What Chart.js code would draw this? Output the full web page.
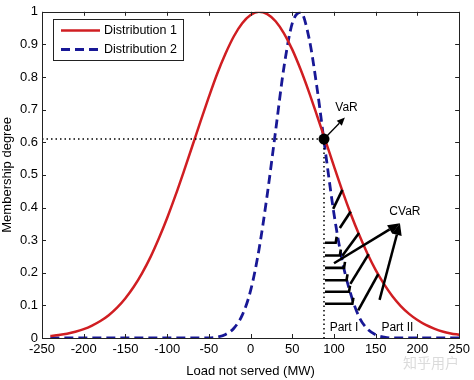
<!DOCTYPE html>
<html><head><meta charset="utf-8">
<script src="https://cdn.jsdelivr.net/npm/chart.js@4"></script>
<style>html,body{margin:0;padding:0;background:#fff;}#wrap{width:474px;height:380px;position:relative;}</style>
</head><body><div id="wrap"><canvas id="c" width="474" height="380"></canvas></div>
<script>
// ---- data ----
const xValues = [-240,-230,-220,-210,-200,-190,-180,-170,-160,-150,-140,-130,-120,-110,-100,-90,-80,-70,-60,-50,-40,-30,-20,-10,0,10,20,30,40,50,60,70,80,90,100,110,120,130,140,150,160,170,180,190,200,210,220,230,240,250];
const dist1 = [0.006,0.009,0.013,0.019,0.027,0.038,0.052,0.070,0.093,0.122,0.157,0.199,0.248,0.305,0.368,0.437,0.511,0.587,0.664,0.739,0.810,0.872,0.925,0.965,0.990,1.0,0.993,0.971,0.934,0.884,0.823,0.754,0.679,0.603,0.526,0.451,0.381,0.317,0.259,0.208,0.165,0.128,0.098,0.074,0.055,0.040,0.029,0.020,0.014,0.010];
const dist2 = [0,0,0,0,0,0,0,0,0,0,0,0,0,0,0,0,0,0,0,0,0.003,0.011,0.03,0.07,0.145,0.27,0.44,0.635,0.83,0.965,0.998,0.92,0.76,0.565,0.38,0.235,0.135,0.065,0.028,0.01,0.003,0,0,0,0,0,0,0,0,0];
const seriesNames = ['Distribution 1','Distribution 2'];
const xTicks = [-250,-200,-150,-100,-50,0,50,100,150,200,250];
const yTicks = [0,0.1,0.2,0.3,0.4,0.5,0.6,0.7,0.8,0.9,1];
const varPoint = [88, 0.61];
const varArrow = [88, 0.61, 113, 0.676];
const varLabel = ['VaR', 115, 0.706];
const hatchH = [[0.292,102],[0.253,107],[0.215,112],[0.177,115],[0.142,118],[0.105,122]];
const hatchD = [[99,0.396,110,0.454],[107,0.337,120,0.388],[110,0.252,130,0.322],[119.6,0.166,141.5,0.257],[129,0.085,153,0.196]];
const cvarArrows = [[100,0.229,179,0.352],[154.6,0.117,179,0.352]];
const cvarLabel = ['CVaR', 185, 0.388];
const partLabels = [['Part I',112,0.031],['Part II',176,0.031]];

const RED = 'rgb(208,30,34)';
const BLUE = 'rgb(24,24,150)';
const FONT = "'Liberation Sans', Arial, sans-serif";

function arrow(ctx, x1, y1, x2, y2, w, hl, hw) {
  const a = Math.atan2(y2 - y1, x2 - x1);
  const bx = x2 - hl * Math.cos(a), by = y2 - hl * Math.sin(a);
  ctx.save();
  ctx.lineWidth = w; ctx.strokeStyle = '#000'; ctx.fillStyle = '#000'; ctx.setLineDash([]);
  ctx.beginPath(); ctx.moveTo(x1, y1); ctx.lineTo(bx, by); ctx.stroke();
  ctx.beginPath();
  ctx.moveTo(x2, y2);
  ctx.lineTo(bx + hw * Math.sin(a), by - hw * Math.cos(a));
  ctx.lineTo(bx - hw * Math.sin(a), by + hw * Math.cos(a));
  ctx.closePath(); ctx.fill();
  ctx.restore();
}

const annot = {
  id: 'annot',
  afterDatasetsDraw(chart) {
    const ctx = chart.ctx, xs = chart.scales.x, ys = chart.scales.y;
    const X = v => xs.getPixelForValue(v), Y = v => ys.getPixelForValue(v);
    ctx.save();
    // dotted guides
    ctx.strokeStyle = '#000'; ctx.lineWidth = 1.5; ctx.setLineDash([1.5, 3]);
    ctx.beginPath(); ctx.moveTo(X(-250), Y(varPoint[1])); ctx.lineTo(X(varPoint[0]), Y(varPoint[1])); ctx.stroke();
    ctx.beginPath(); ctx.moveTo(X(varPoint[0]), Y(varPoint[1])); ctx.lineTo(X(varPoint[0]), Y(0)); ctx.stroke();
    ctx.setLineDash([]);
    // hatching
    ctx.lineWidth = 2.6; ctx.lineCap = 'butt';
    hatchH.forEach(([yv, xe]) => {
      ctx.beginPath(); ctx.moveTo(X(varPoint[0]) + 1, Y(yv)); ctx.lineTo(X(xe), Y(yv)); ctx.lineTo(X(xe) + 1, Y(yv) - 6); ctx.stroke();
    });
    hatchD.forEach(([a, b, c, d]) => {
      ctx.beginPath(); ctx.moveTo(X(a), Y(b)); ctx.lineTo(X(c), Y(d)); ctx.stroke();
    });
    // arrows
    arrow(ctx, X(varArrow[0]), Y(varArrow[1]), X(varArrow[2]), Y(varArrow[3]), 1.3, 8, 3.5);
    cvarArrows.forEach(([a, b, c, d]) => arrow(ctx, X(a), Y(b), X(c), Y(d), 2.5, 12, 5));
    // VaR point
    ctx.fillStyle = '#000';
    ctx.beginPath(); ctx.arc(X(varPoint[0]), Y(varPoint[1]), 5.5, 0, Math.PI * 2); ctx.fill();
    // texts
    ctx.font = '12px ' + FONT; ctx.textAlign = 'center'; ctx.textBaseline = 'middle'; ctx.fillStyle = '#000';
    ctx.fillText(varLabel[0], X(varLabel[1]), Y(varLabel[2]));
    ctx.fillText(cvarLabel[0], X(cvarLabel[1]), Y(cvarLabel[2]));
    partLabels.forEach(([t, a, b]) => ctx.fillText(t, X(a), Y(b)));
    ctx.restore();
  },
  afterDraw(chart) {
    const ctx = chart.ctx, xs = chart.scales.x, ys = chart.scales.y, ca = chart.chartArea;
    ctx.save();
    // box
    ctx.strokeStyle = '#222'; ctx.lineWidth = 1; ctx.setLineDash([]);
    ctx.strokeRect(Math.round(ca.left) + 0.5, Math.round(ca.top) + 0.5, Math.round(ca.right - ca.left), Math.round(ca.bottom - ca.top));
    // inward ticks
    ctx.beginPath();
    xTicks.forEach(v => {
      const px = Math.round(xs.getPixelForValue(v)) + 0.5;
      ctx.moveTo(px, ca.bottom); ctx.lineTo(px, ca.bottom - 4);
      ctx.moveTo(px, ca.top); ctx.lineTo(px, ca.top + 4);
    });
    yTicks.forEach(v => {
      const py = Math.round(ys.getPixelForValue(v)) + 0.5;
      ctx.moveTo(ca.left, py); ctx.lineTo(ca.left + 4, py);
      ctx.moveTo(ca.right, py); ctx.lineTo(ca.right - 4, py);
    });
    ctx.stroke();
    // legend
    const lx = 53, ly = 19, lw = 130, lh = 41;
    ctx.fillStyle = '#fff'; ctx.fillRect(lx, ly, lw, lh);
    ctx.strokeStyle = '#222'; ctx.strokeRect(lx + 0.5, ly + 0.5, lw, lh);
    const rows = [30.5, 49.5];
    chart.data.datasets.forEach((ds, i) => {
      ctx.strokeStyle = ds.borderColor; ctx.lineWidth = ds.borderWidth;
      ctx.setLineDash(ds.borderDash || []);
      ctx.beginPath(); ctx.moveTo(61, rows[i]); ctx.lineTo(100, rows[i]); ctx.stroke();
      ctx.setLineDash([]);
      ctx.fillStyle = '#000'; ctx.font = '12.5px ' + FONT; ctx.textAlign = 'left'; ctx.textBaseline = 'middle';
      ctx.fillText(ds.label, 104, rows[i]);
    });
    // watermark
    ctx.font = '14px "Noto Sans CJK SC"'; ctx.fillStyle = 'rgba(190,190,190,0.55)'; ctx.textAlign = 'left';
    ctx.fillText('知乎用户', 403, 363);
    ctx.restore();
  }
};

new Chart(document.getElementById('c'), {
  type: 'line',
  data: {
    datasets: [
      { label: seriesNames[0], data: xValues.map((x, i) => ({x, y: dist1[i]})), borderColor: RED, borderWidth: 2.5, pointRadius: 0, cubicInterpolationMode: 'monotone', fill: false },
      { label: seriesNames[1], data: xValues.map((x, i) => ({x, y: dist2[i]})), borderColor: BLUE, borderWidth: 2.8, borderDash: [9, 5], pointRadius: 0, cubicInterpolationMode: 'monotone', fill: false }
    ]
  },
  options: {
    responsive: false, animation: false, devicePixelRatio: 1,
    layout: { padding: { top: 8, right: 11, left: 0, bottom: 0 } },
    plugins: { legend: { display: false }, tooltip: { enabled: false } },
    scales: {
      x: {
        type: 'linear', min: -250, max: 250,
        afterBuildTicks: s => { s.ticks = xTicks.map(v => ({ value: v })); },
        afterFit: s => { s.height = 42; },
        grid: { display: false, drawTicks: false }, border: { display: false },
        ticks: { color: '#000', font: { size: 13, family: FONT }, padding: 4, autoSkip: false, maxRotation: 0, callback: v => String(v) },
        title: { display: true, text: 'Load not served (MW)', color: '#000', font: { size: 13, family: FONT }, padding: { top: 0, bottom: 1 } }
      },
      y: {
        min: 0, max: 1,
        afterBuildTicks: s => { s.ticks = yTicks.map(v => ({ value: v })); },
        afterFit: s => { s.width = 42; },
        grid: { display: false, drawTicks: false }, border: { display: false },
        ticks: { color: '#000', font: { size: 13, family: FONT }, padding: 4, autoSkip: false, callback: v => String(v) },
        title: { display: true, text: 'Membership degree', color: '#000', font: { size: 13, family: FONT }, padding: { top: 0, bottom: 0 } }
      }
    }
  },
  plugins: [annot]
});
</script></body></html>
